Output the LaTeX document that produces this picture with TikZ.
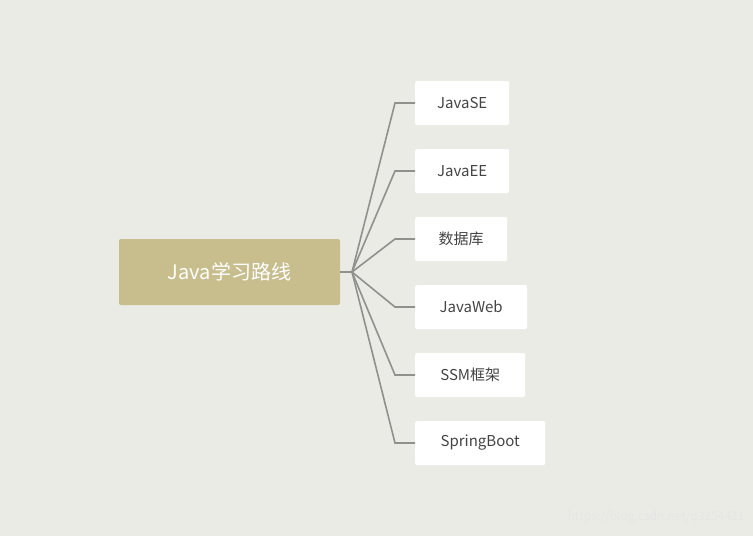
\documentclass[tikz,border=0pt]{standalone}
\usepackage{fontspec}
\setmainfont{Noto Sans CJK SC}
\definecolor{bg}{HTML}{EBEBE6}
\definecolor{root}{HTML}{C8BD8C}
\definecolor{lnk}{HTML}{8E918C}
\definecolor{txt}{HTML}{444444}
\begin{document}
\begin{tikzpicture}[x=1pt,y=-1pt,
  leaf/.style={fill=white,rounded corners=2pt,anchor=west,minimum height=44pt,inner xsep=0pt,font=\fontsize{15}{18}\selectfont,text=txt},
  link/.style={draw=lnk,line width=1.6pt}]
\fill[bg] (0,0) rectangle (753,536);
\useasboundingbox (0,0) rectangle (753,536);
\node[fill=root,rounded corners=2pt,minimum width=221pt,minimum height=66pt,text=white,font=\fontsize{20}{24}\selectfont] (r) at (229.5,272) {Java学习路线};
\coordinate (j) at (352,272);
\foreach \n/\t/\w/\y in {a/JavaSE/94/103,b/JavaEE/94/171,c/数据库/92/239,d/JavaWeb/112/307,e/SSM框架/110/375,f/SpringBoot/130/443}{
  \node[leaf,minimum width=\w pt] (\n) at (415,\y) {\t};
  \coordinate (\n k) at (395,\y);
  \draw[link] (j) -- (\n k) -- (\n.west);
}
\draw[link] (r.east) -- (j);
\node[anchor=east,text=white!80!gray,font=\fontsize{12}{14}\selectfont] (w) at (748,517) {https://blog.csdn.net/q3254421};
\end{tikzpicture}
\end{document}
